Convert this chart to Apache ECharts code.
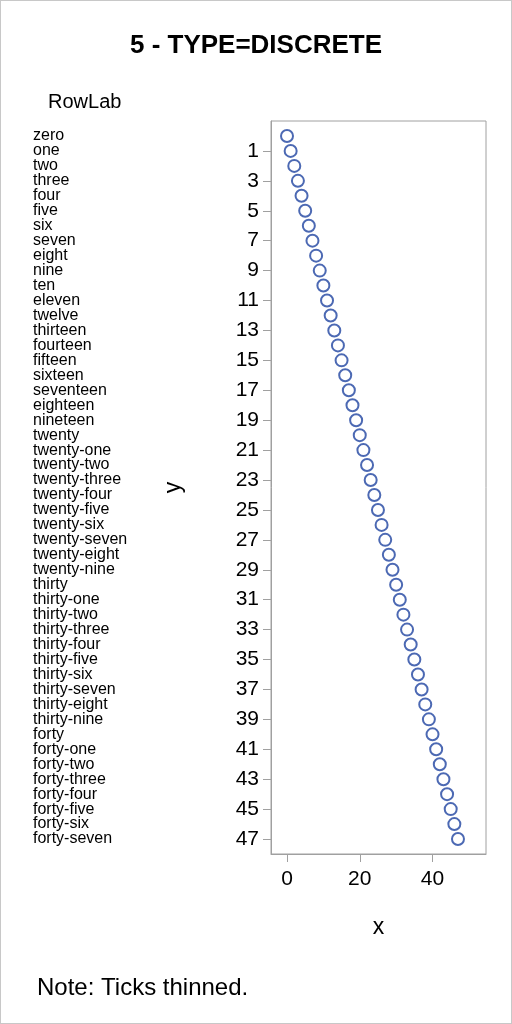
<!DOCTYPE html>
<html>
<head>
<meta charset="utf-8">
<script src="https://cdn.jsdelivr.net/npm/echarts@6/dist/echarts.min.js"></script>
<style>
  html, body { margin: 0; padding: 0; background: #fff; }
  #main { width: 512px; height: 1024px; box-sizing: border-box; border: 1px solid #c8c8c8; }
</style>
</head>
<body>
<div id="main"></div>
<script>
var rowLabels = ['zero','one','two','three','four','five','six','seven','eight','nine','ten',
  'eleven','twelve','thirteen','fourteen','fifteen','sixteen','seventeen','eighteen','nineteen',
  'twenty','twenty-one','twenty-two','twenty-three','twenty-four','twenty-five','twenty-six',
  'twenty-seven','twenty-eight','twenty-nine','thirty','thirty-one','thirty-two','thirty-three',
  'thirty-four','thirty-five','thirty-six','thirty-seven','thirty-eight','thirty-nine','forty',
  'forty-one','forty-two','forty-three','forty-four','forty-five','forty-six','forty-seven'];
var xValues = [0,1,2,3,4,5,6,7,8,9,10,11,12,13,14,15,16,17,18,19,20,21,22,23,24,25,26,27,28,29,
  30,31,32,33,34,35,36,37,38,39,40,41,42,43,44,45,46,47];
var yValues = [0,1,2,3,4,5,6,7,8,9,10,11,12,13,14,15,16,17,18,19,20,21,22,23,24,25,26,27,28,29,
  30,31,32,33,34,35,36,37,38,39,40,41,42,43,44,45,46,47];
var xTicks = [0, 20, 40];

var font = 'Liberation Sans, Arial, sans-serif';
var chart = echarts.init(document.getElementById('main'));
chart.setOption({
  animation: false,
  title: [
    { text: '5 - TYPE=DISCRETE', left: 'center', top: 27,
      textStyle: { fontFamily: font, fontSize: 26, fontWeight: 'bold', color: '#000' } },
    { text: 'RowLab', left: 42, top: 86,
      textStyle: { fontFamily: font, fontSize: 20, fontWeight: 'normal', color: '#000' } },
    { text: 'Note: Ticks thinned.', left: 31, top: 970,
      textStyle: { fontFamily: font, fontSize: 24, fontWeight: 'normal', color: '#000' } }
  ],
  grid: { left: 270, right: 25, top: 120, bottom: 169, show: true, borderColor: '#a0a0a0', borderWidth: 1 },
  xAxis: {
    type: 'value', min: -4.4, max: 54.7,
    name: 'x', nameLocation: 'middle', nameGap: 62,
    nameTextStyle: { fontFamily: font, fontSize: 23, color: '#000' },
    splitLine: { show: false },
    axisLine: { show: true, onZero: false, lineStyle: { color: '#a0a0a0' } },
    axisTick: { show: true, length: 8, customValues: xTicks, lineStyle: { color: '#a0a0a0' } },
    axisLabel: { customValues: xTicks, margin: 15, fontFamily: font, fontSize: 21, color: '#000' }
  },
  yAxis: [
    {
      type: 'value', inverse: true, min: -1, max: 48, interval: 2,
      name: 'y', nameLocation: 'middle', nameGap: 86, nameRotate: 90,
      nameTextStyle: { fontFamily: font, fontSize: 23, color: '#000' },
      splitLine: { show: false },
      axisLine: { show: true, onZero: false, lineStyle: { color: '#a0a0a0' } },
      axisTick: { show: true, length: 8, lineStyle: { color: '#a0a0a0' } },
      axisLabel: { showMinLabel: false, showMaxLabel: false, margin: 12,
        fontFamily: font, fontSize: 21, color: '#000',
        formatter: function (v) { return v < 0 || v > 47 ? '' : String(v); } }
    },
    {
      type: 'value', inverse: true, min: -1, max: 48, interval: 1,
      position: 'left', offset: 238,
      splitLine: { show: false }, axisLine: { show: false }, axisTick: { show: false },
      axisLabel: { showMinLabel: false, showMaxLabel: false, margin: 0, align: 'left',
        fontFamily: font, fontSize: 16, lineHeight: 15, color: '#000',
        formatter: function (v) { return rowLabels[v] || ''; } }
    }
  ],
  series: [{
    type: 'scatter',
    yAxisIndex: 0,
    symbol: 'circle', symbolSize: 12,
    itemStyle: { color: '#fff', borderColor: '#1f44a0', borderWidth: 2 },
    data: xValues.map(function (x, i) { return [x, yValues[i]]; })
  }]
});
</script>
</body>
</html>
